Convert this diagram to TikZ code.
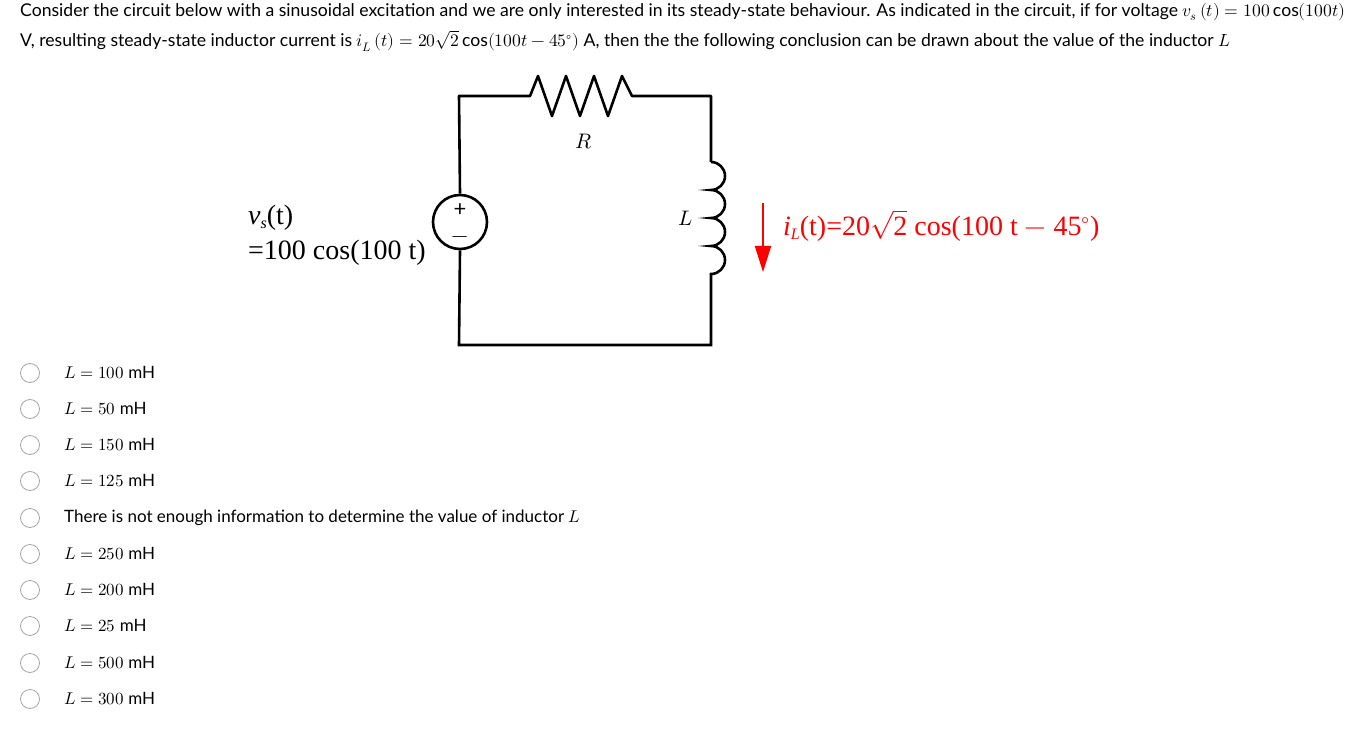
\documentclass[tikz,border=0pt]{standalone}
\usepackage{fontspec}
\setmainfont{Lato}
\newfontfamily\cserif{Liberation Serif}
\usepackage{amsmath}
\usepackage{unicode-math}
\setmathfont{Latin Modern Math}
\usetikzlibrary{arrows.meta}
\begin{document}
\begin{tikzpicture}[x=1pt,y=-1pt,
  wire/.style={line width=2.6pt},
  opt/.style={circle,draw=black!35,line width=0.8pt,minimum size=19pt,inner sep=0pt},
  opttext/.style={anchor=west,font=\fontsize{17}{19}\selectfont,inner sep=0pt},
  hdr/.style={anchor=west,font=\fontsize{17.6}{20}\selectfont,inner sep=0pt}]
\useasboundingbox (0,0) rectangle (1362,735);
\node[hdr] (h1) at (20,12) {Consider the circuit below with a sinusoidal excitation and we are only interested in its steady-state behaviour. As indicated in the circuit, if for voltage $v_s\,(t)=100\cos(100t)$};
\node[hdr] (h2) at (20,41) {V, resulting steady-state inductor current is $i_L\,(t)=20\sqrt{2}\cos(100t-45^\circ)$ A, then the the following conclusion can be drawn about the value of the inductor $L$};
% circuit
\coordinate (tl) at (459,96);
\coordinate (tr) at (711,96);
\coordinate (br) at (711,345);
\coordinate (bl) at (459,345);
\node[circle,draw,line width=2.6pt,minimum size=54pt,inner sep=0pt] (src) at (460,222) {};
\node[font=\fontsize{22}{22}\selectfont,inner sep=0pt] (plus) at (460,210) {+};
\node[font=\fontsize{22}{22}\selectfont,inner sep=0pt] (minus) at (460,240) {$-$};
\draw[wire,line join=round] (src.north) -- (tl) -- (530,96) -- (538,76) -- (552,116) -- (566,76) -- (580,116) -- (594,76) -- (608,116) -- (622,76) -- (632,96) -- (tr) -- (711,162);
\draw[wire] (711,162) arc (-90:90:14) arc (-90:90:14) arc (-90:90:14) arc (-90:90:14) -- (br) -- (bl) -- (src.south);
\node[font=\fontsize{21}{22}\selectfont] (R) at (584,142) {$R$};
\node[font=\fontsize{21}{22}\selectfont] (Ll) at (686,218) {$L$};
\coordinate (a1) at (763,203);
\coordinate (a2) at (763,272);
\draw[red,line width=2pt,-{Triangle[length=26pt,width=16pt]}] (a1) -- (a2);
\node[red,anchor=west,font=\cserif\fontsize{28}{30}\selectfont,inner sep=0pt] (iL) at (783,226) {\textit{i}\raisebox{-4pt}{\fontsize{16}{16}\selectfont\textit{L}}(t)=20$\sqrt{\text{2}}$ cos(100 t $-$ 45$^{\circ}$)};
\node[anchor=west,font=\cserif\fontsize{28}{30}\selectfont,inner sep=0pt] (vs1) at (248,218) {\textit{v}\raisebox{-4pt}{\fontsize{16}{16}\selectfont\textit{s}}(t)};
\node[anchor=west,font=\cserif\fontsize{28}{30}\selectfont,inner sep=0pt] (vs2) at (248,253) {=100 cos(100 t)};
% options
\foreach \y/\t [count=\i] in {373/{$L=100$ mH},409/{$L=50$ mH},445/{$L=150$ mH},481/{$L=125$ mH},518/{There is not enough information to determine the value of inductor $L$},554/{$L=250$ mH},590/{$L=200$ mH},626/{$L=25$ mH},663/{$L=500$ mH},699/{$L=300$ mH}}{
  \node[opt] (c\i) at (30,\y) {};
  \node[opttext] (t\i) at (64,\y) {\t};
}
\end{tikzpicture}
\end{document}
